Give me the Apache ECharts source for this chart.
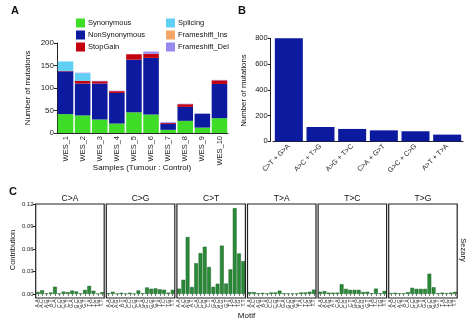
<!DOCTYPE html>
<html><head><meta charset="utf-8">
<script src="https://cdn.jsdelivr.net/npm/echarts/dist/echarts.min.js"></script>
<style>html,body{margin:0;padding:0;background:#fff}#c{width:474px;height:327px}</style>
</head><body><div id="c"></div>
<script>
// ---- Panel A data ----
const samples = ['WES_1','WES_2','WES_3','WES_4','WES_5','WES_6','WES_7','WES_8','WES_9','WES_10'];
const synonymous    = [42, 39, 30, 21, 46, 41, 7, 27, 12, 33];
const nonSynonymous = [95, 71, 80, 68, 117, 126, 13, 31, 31, 76];
const stopGain      = [1, 6, 5, 4, 12, 9, 2, 6, 0, 8];
const splicing      = [21, 17, 0, 0, 0, 0, 0, 0, 0, 0];
const frameshiftIns = [0, 0, 0, 0, 0, 0, 0, 0, 0, 0];
const frameshiftDel = [0, 1, 1, 1, 0, 5, 2, 1, 0, 1];

// ---- Panel B data ----
const substitutionPairs = ['C>T + G>A','A>C + T>G','A>G + T>C','C>A + G>T','G>C + C>G','A>T + T>A'];
const pairCounts = [815, 111, 96, 85, 78, 52];

// ---- Panel C data ----
const substitutions = ['C>A','C>G','C>T','T>A','T>C','T>G'];
const motifs = ['A.A','A.C','A.G','A.T','C.A','C.C','C.G','C.T','G.A','G.C','G.G','G.T','T.A','T.C','T.G','T.T'];
const contribCA = [0.0027,0.005,0.0008,0.002,0.0097,0.0008,0.0032,0.0025,0.0046,0.0033,0.0008,0.0055,0.0108,0.0043,0.0006,0.0025];
const contribCG = [0.001,0.003,0.0005,0.0017,0.0005,0.0017,0.0005,0.0047,0.001,0.0087,0.007,0.0075,0.0062,0.0057,0.0018,0.0055];
const contribCT = [0.0071,0.019,0.076,0.0093,0.041,0.0545,0.063,0.036,0.0095,0.0137,0.0645,0.014,0.0328,0.1145,0.054,0.0437];
const contribTA = [0.0025,0.0025,0.001,0.0015,0.0008,0.002,0.002,0.0045,0.001,0.0008,0.0008,0.0008,0.002,0.002,0.003,0.0058];
const contribTC = [0.003,0.0038,0.0018,0.0018,0.0018,0.013,0.0068,0.0055,0.0055,0.0055,0.0027,0.003,0.001,0.0072,0.001,0.004];
const contribTG = [0.0012,0.0017,0.001,0.001,0.0025,0.0082,0.0068,0.0068,0.0068,0.027,0.009,0.001,0.0018,0.001,0.0018,0.0028];
const contributions = [contribCA, contribCG, contribCT, contribTA, contribTC, contribTG];

const FONT = 'Liberation Sans, Arial, sans-serif';
const AX = '#222';
const colors = {
  Synonymous: '#3fdc28', NonSynonymous: '#0b1a9f', StopGain: '#c4000f',
  Splicing: '#5fcff3', Frameshift_Ins: '#f6a568', Frameshift_Del: '#968af0'
};
const BAR_C = '#2a8a37';

const grids = [
  {left: 57, top: 43, width: 171, height: 90},
  {left: 273, top: 38.3, width: 190, height: 103}
];
const xAxes = [
  {type:'category', gridIndex:0, data: samples,
   axisLine:{lineStyle:{color:AX,width:1}}, axisTick:{alignWithLabel:true,length:3,lineStyle:{color:AX}},
   axisLabel:{rotate:90, fontSize:7.5, color:AX, margin:3, fontFamily:FONT}},
  {type:'category', gridIndex:1, data: substitutionPairs,
   axisLine:{lineStyle:{color:AX,width:1}}, axisTick:{alignWithLabel:true,length:3,lineStyle:{color:AX}},
   axisLabel:{rotate:45, fontSize:7, color:AX, margin:4, fontFamily:FONT}}
];
const yAxes = [
  {type:'value', gridIndex:0, min:0, max:200, interval:50, splitLine:{show:false},
   axisLine:{show:true, lineStyle:{color:AX,width:1}}, axisTick:{show:true,length:3,lineStyle:{color:AX}},
   axisLabel:{fontSize:8, color:AX, margin:3, fontFamily:FONT}},
  {type:'value', gridIndex:1, min:0, max:800, interval:200, splitLine:{show:false}, offset:2.3,
   axisLine:{show:true, lineStyle:{color:AX,width:1}}, axisTick:{show:true,length:3,lineStyle:{color:AX}},
   axisLabel:{fontSize:7.5, color:AX, margin:3, fontFamily:FONT}}
];
const series = [];
const stackA = [['Synonymous', synonymous],['NonSynonymous', nonSynonymous],['StopGain', stopGain],
  ['Splicing', splicing],['Frameshift_Ins', frameshiftIns],['Frameshift_Del', frameshiftDel]];
stackA.forEach(([name, arr]) => series.push({
  name, type:'bar', stack:'a', xAxisIndex:0, yAxisIndex:0, data: arr, barWidth:'91%',
  itemStyle:{color: colors[name]}, emphasis:{disabled:true}
}));
series.push({type:'bar', xAxisIndex:1, yAxisIndex:1, data: pairCounts, barWidth:28,
  itemStyle:{color: colors.NonSynonymous}, emphasis:{disabled:true}});

const graphics = [];
const PX0 = 35.7, PSTEP = 70.6, PW = 68.5, PTOP = 204, PH = 90, FRAMEH = 94;
substitutions.forEach((s, i) => {
  const left = PX0 + i * PSTEP;
  grids.push({left, top: PTOP, width: PW, height: PH});
  xAxes.push({type:'category', gridIndex: 2 + i, data: motifs, offset: 4,
    axisLine:{show:false}, axisTick:{show:true, alignWithLabel:true, length:2, lineStyle:{color:AX, width:0.6}},
    axisLabel:{rotate:90, fontSize:5, color:AX, margin:1.5, fontFamily:FONT, interval:0}});
  yAxes.push({type:'value', gridIndex: 2 + i, min:0, max:0.12, interval:0.03, splitLine:{show:false},
    axisLine:{show:false}, axisTick:{show: i === 0, length:3, lineStyle:{color:AX}},
    axisLabel:{show: i === 0, fontSize:6, color:AX, margin:2, fontFamily:FONT, formatter: v => v.toFixed(2)}});
  series.push({type:'bar', xAxisIndex: 2 + i, yAxisIndex: 2 + i, data: contributions[i], barWidth:'88%',
    itemStyle:{color: BAR_C, borderColor:'#155e22', borderWidth:0.5}, emphasis:{disabled:true}});
  graphics.push({type:'rect', shape:{x: left, y: PTOP, width: PW, height: FRAMEH}, z: 10,
    style:{fill:'none', stroke:'#222', lineWidth:1.2}});
  graphics.push({type:'text', x: left + PW/2, y: 199, z: 10,
    style:{text: s, font: '8.5px ' + FONT, fill: '#111', align:'center', verticalAlign:'middle'}});
});

function txt(text, x, y, size, opts) {
  opts = opts || {};
  return {type:'text', x, y, rotation: opts.rot || 0, z: 10,
    style:{text, font: (opts.bold ? 'bold ' : '') + size + 'px ' + FONT, fill: opts.fill || '#111',
      align: opts.align || 'center', verticalAlign:'middle'}};
}
graphics.push(txt('A', 15, 10.5, 11, {bold:true}));
graphics.push(txt('B', 242, 11, 11, {bold:true}));
graphics.push(txt('C', 13, 191.5, 11, {bold:true}));
graphics.push(txt('Number of mutations', 28, 88, 8, {rot: Math.PI/2}));
graphics.push(txt('Samples (Tumour : Control)', 142, 168, 8));
graphics.push(txt('Number of mutations', 243.5, 90.5, 7.8, {rot: Math.PI/2}));
graphics.push(txt('Contribution', 13, 250, 7.5, {rot: Math.PI/2}));
graphics.push(txt('Motif', 246.5, 316, 8));
graphics.push(txt('Sezary', 463.5, 250, 7.5, {rot: -Math.PI/2}));

const option = {
  animation: false,
  textStyle: {fontFamily: FONT},
  grid: grids, xAxis: xAxes, yAxis: yAxes, series,
  legend: [
    {data:['Synonymous','NonSynonymous','StopGain'], orient:'vertical', left:71, top:13.5,
     itemWidth:9, itemHeight:9, itemGap:3, icon:'rect', selectedMode:false,
     textStyle:{fontSize:7.5, color:'#111', fontFamily:FONT, padding:[0,0,0,-2]}},
    {data:['Splicing','Frameshift_Ins','Frameshift_Del'], orient:'vertical', left:161, top:13.5,
     itemWidth:9, itemHeight:9, itemGap:3, icon:'rect', selectedMode:false,
     textStyle:{fontSize:7.5, color:'#111', fontFamily:FONT, padding:[0,0,0,-2]}}
  ],
  graphic: graphics
};
const chart = echarts.init(document.getElementById('c'), null, {renderer:'canvas'});
chart.setOption(option);
</script>
</body></html>
